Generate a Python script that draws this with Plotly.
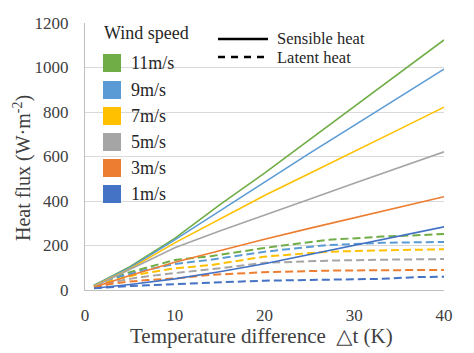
import plotly.graph_objects as go

# ---------------- data ----------------
wind_labels = ["11m/s", "9m/s", "7m/s", "5m/s", "3m/s", "1m/s"]
colors = ["#70AD47", "#5B9BD5", "#FFC000", "#A5A5A5", "#ED7D31", "#4472C4"]

# sensible heat (solid)
x_sens = [1, 5, 10, 15, 20, 25, 30, 35, 40]
sens_11 = [20, 105, 232, 383, 525, 674, 824, 974, 1124]
sens_9 = [20, 100, 225, 355, 485, 614, 740, 867, 993]
sens_7 = [18, 95, 212, 320, 425, 524, 622, 722, 822]
sens_5 = [15, 92, 190, 265, 338, 408, 480, 550, 621]
sens_3 = [12, 65, 125, 178, 228, 277, 325, 372, 419]
sens_1 = [8, 25, 50, 82, 118, 160, 200, 242, 284]

# latent heat (dashed)
x_lat = [1, 3, 5, 7, 10, 14, 20, 27, 33, 37, 40]
lat_11 = [20, 55, 80, 102, 135, 152, 189, 225, 240, 246, 252]
lat_9 = [20, 50, 72, 92, 117, 136, 172, 202, 212, 215, 216]
lat_7 = [18, 42, 62, 78, 97, 112, 150, 172, 178, 181, 183]
lat_5 = [15, 35, 50, 62, 76, 93, 122, 132, 136, 138, 139]
lat_3 = [12, 28, 38, 45, 52, 68, 80, 87, 89, 90, 90]
lat_1 = [8, 14, 18, 21, 25, 33, 42, 48, 50, 58, 60]

sens = [sens_11, sens_9, sens_7, sens_5, sens_3, sens_1]
lat = [lat_11, lat_9, lat_7, lat_5, lat_3, lat_1]

x_ticks = [0, 10, 20, 30, 40]
y_ticks = [0, 200, 400, 600, 800, 1000, 1200]

# ---------------- figure ----------------
W, H = 474, 353
L, R, T, B = 85, 30, 23, 63
pw, ph = W - L - R, H - T - B

def px(x):
    return (x - L) / pw

def py(y):
    return (H - B - y) / ph

FONT = "Times New Roman, Liberation Serif, DejaVu Serif, serif"
TXT = "#404040"
LEG = "#262626"

fig = go.Figure()
for i in range(6):
    fig.add_trace(go.Scatter(x=x_lat, y=lat[i], mode="lines",
                             line=dict(color=colors[i], width=2, dash="8px,4px"),
                             showlegend=False))
for i in range(6):
    fig.add_trace(go.Scatter(x=x_sens, y=sens[i], mode="lines",
                             line=dict(color=colors[i], width=1.6),
                             showlegend=False))

shapes = []
annotations = []

# legend: wind speed
annotations.append(dict(xref="paper", yref="paper", x=px(102), y=py(33),
                        text="Wind speed", showarrow=False, xanchor="left",
                        yanchor="middle", font=dict(family=FONT, size=18, color=LEG)))
row_y = [63, 90, 116, 142, 168, 194]
for i in range(6):
    shapes.append(dict(type="rect", xref="paper", yref="paper",
                       x0=px(103), x1=px(121), y0=py(row_y[i] + 9), y1=py(row_y[i] - 9),
                       fillcolor=colors[i], line=dict(width=0)))
    annotations.append(dict(xref="paper", yref="paper", x=px(129), y=py(row_y[i]),
                            text=wind_labels[i], showarrow=False, xanchor="left",
                            yanchor="middle", font=dict(family=FONT, size=18, color=LEG)))

# legend: line styles
shapes.append(dict(type="line", xref="paper", yref="paper",
                   x0=px(218), x1=px(268), y0=py(39), y1=py(39),
                   line=dict(color="black", width=2.5)))
shapes.append(dict(type="line", xref="paper", yref="paper",
                   x0=px(218), x1=px(268), y0=py(57), y1=py(57),
                   line=dict(color="black", width=2.5, dash="7px,6px")))
annotations.append(dict(xref="paper", yref="paper", x=px(275), y=py(38.5),
                        text="Sensible heat", showarrow=False, xanchor="left",
                        yanchor="middle", font=dict(family=FONT, size=16.5, color=LEG)))
annotations.append(dict(xref="paper", yref="paper", x=px(275), y=py(57.5),
                        text="Latent heat", showarrow=False, xanchor="left",
                        yanchor="middle", font=dict(family=FONT, size=16.5, color=LEG)))

# axis titles
annotations.append(dict(xref="paper", yref="paper", x=px(22), y=py(168),
                        text="Heat flux (W\u00b7m<sup>-2</sup>)", textangle=-90,
                        showarrow=False, xanchor="center", yanchor="middle",
                        font=dict(family=FONT, size=20, color=TXT)))
annotations.append(dict(xref="paper", yref="paper", x=px(261), y=py(336),
                        text="Temperature difference  \u25b3t (K)",
                        showarrow=False, xanchor="center", yanchor="middle",
                        font=dict(family=FONT, size=21, color=TXT)))

fig.update_layout(
    width=W, height=H,
    margin=dict(l=L, r=R, t=T, b=B),
    paper_bgcolor="white", plot_bgcolor="white",
    font=dict(family=FONT, color=TXT),
    shapes=shapes, annotations=annotations,
    xaxis=dict(range=[0, 40], tickvals=x_ticks, ticktext=[str(v) for v in x_ticks],
               showgrid=False, zeroline=False, showline=True, linecolor="#BFBFBF",
               linewidth=1, ticks="", ticklabelstandoff=10,
               tickfont=dict(family=FONT, size=17, color=TXT)),
    yaxis=dict(range=[0, 1200], tickvals=y_ticks, ticktext=[str(v) for v in y_ticks],
               showgrid=True, gridcolor="#D9D9D9", gridwidth=1, zeroline=False,
               showline=True, linecolor="#BFBFBF", linewidth=1, ticks="",
               ticklabelstandoff=12,
               tickfont=dict(family=FONT, size=17, color=TXT)),
)

fig.write_html("out.html")
